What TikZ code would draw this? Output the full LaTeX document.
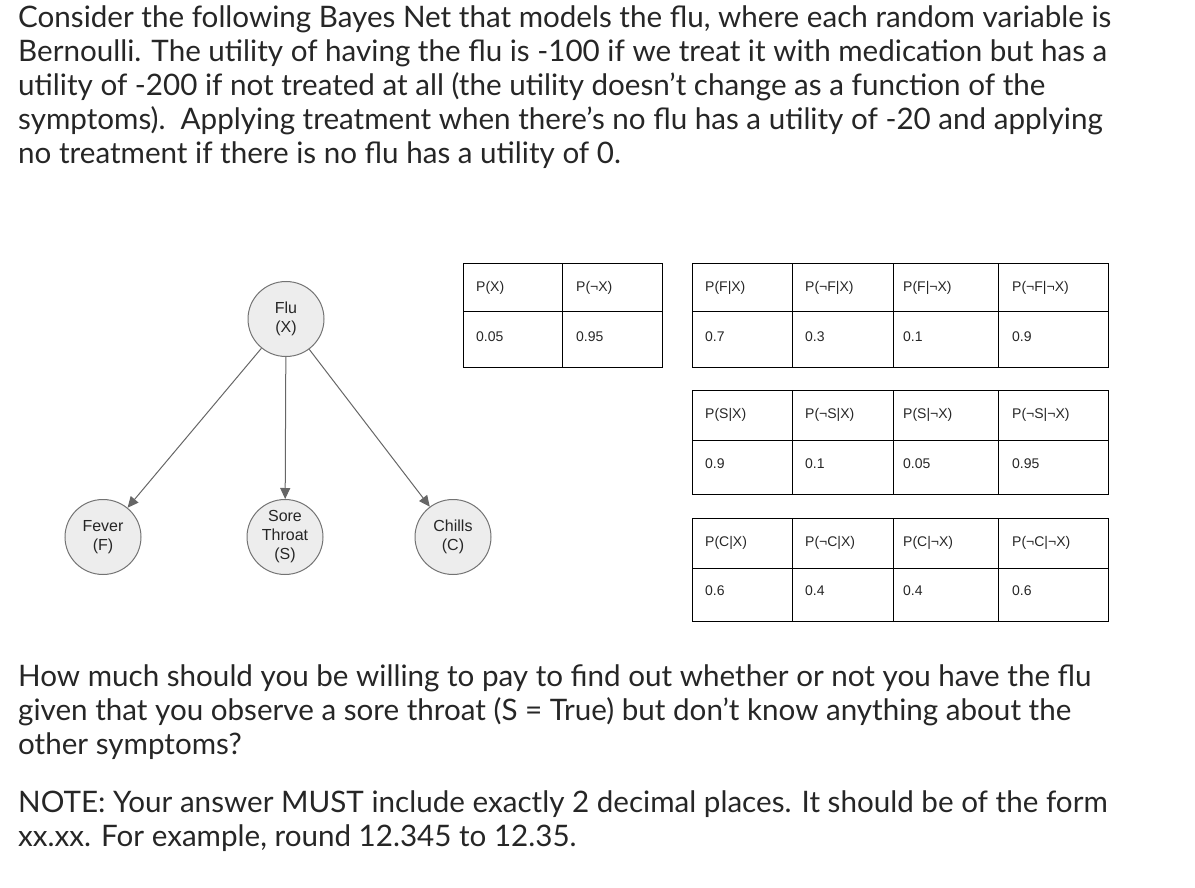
\documentclass[tikz,border=0pt]{standalone}
\usepackage{fontspec}
\setmainfont{Lato}
\newfontfamily\arial{Liberation Sans}
\usetikzlibrary{arrows.meta,shapes.geometric}
\newcommand\ap{\char39\relax}
\newcommand\nt{{\arial\char"AC}}
\begin{document}
\begin{tikzpicture}[x=1pt,y=-1pt,
  para/.style={anchor=base west,inner sep=0,font=\fontsize{29.6}{34}\selectfont,text=black!85},
  bn/.style={ellipse,draw=black!55,fill=black!7,line width=1pt,minimum width=76pt,minimum height=75pt,inner sep=0,align=center,font=\arial\fontsize{16}{19}\selectfont,text=black!85},
  arr/.style={draw=black!60,line width=1pt,-{Triangle[length=11pt,width=10pt]}},
  cell/.style={anchor=base west,inner sep=0,font=\arial\fontsize{14}{16}\selectfont,text=black!85},
  tab/.style={line width=1pt}]
\useasboundingbox (0,0) rectangle (1195,888);
\node[para] (t1) at (18,28) {Consider the following Bayes Net that models the flu, where each random variable is};
\node[para] (t2) at (18,62) {Bernoulli. The utility of having the flu is -100 if we treat it with medication but has a};
\node[para] (t3) at (18,96) {utility of -200 if not treated at all (the utility doesn\ap t change as a function of the};
\node[para] (t4) at (18,130) {symptoms).\ \ Applying treatment when there\ap s no flu has a utility of -20 and applying};
\node[para] (t5) at (18,164) {no treatment if there is no flu has a utility of 0.};
\node[para] (b1) at (18,686) {How much should you be willing to pay to find out whether or not you have the flu};
\node[para] (b2) at (18,720) {given that you observe a sore throat (S = True) but don\ap t know anything about the};
\node[para] (b3) at (18,754) {other symptoms?};
\node[para] (b4) at (18,812) {NOTE: Your answer MUST include exactly 2 decimal places. It should be of the form};
\node[para] (b5) at (18,846) {xx.xx. For example, round 12.345 to 12.35.};
\node[bn] (x) at (286,319) {Flu\\(X)};
\node[bn] (f) at (103,537) {Fever\\(F)};
\node[bn] (s) at (285,537) {Sore\\Throat\\(S)};
\node[bn] (c) at (453,537) {Chills\\(C)};
\draw[arr] (x) -- (f);
\draw[arr] (x) -- (s);
\draw[arr] (x) -- (c);
% table X
\draw[tab] (463,263) rectangle (662,367);
\draw[tab] (463,311) -- (662,311);
\draw[tab] (562,263) -- (562,367);
\node[cell] (h1) at (476,291) {P(X)};
\node[cell] (h2) at (576,291) {P(\nt X)};
\node[cell] (v1) at (476,341) {0.05};
\node[cell] (v2) at (576,341) {0.95};
% CPTs
\foreach \t/\m/\b/\L in {263/311/367/F,390/440/494/S,518/568/621/C}{
  \draw[tab] (692,\t) rectangle (1108,\b);
  \draw[tab] (692,\m) -- (1108,\m);
  \foreach \xx in {792,893,998} \draw[tab] (\xx,\t) -- (\xx,\b);
  \node[cell] at (705,\t+28) {P(\L|X)};
  \node[cell] at (805,\t+28) {P(\nt\L|X)};
  \node[cell] at (903,\t+28) {P(\L|\nt X)};
  \node[cell] at (1012,\t+28) {P(\nt\L|\nt X)};
}
\node[cell] at (705,341) {0.7};
\node[cell] at (805,341) {0.3};
\node[cell] at (903,341) {0.1};
\node[cell] at (1012,341) {0.9};
\node[cell] at (705,468) {0.9};
\node[cell] at (805,468) {0.1};
\node[cell] at (903,468) {0.05};
\node[cell] at (1012,468) {0.95};
\node[cell] at (705,595) {0.6};
\node[cell] at (805,595) {0.4};
\node[cell] at (903,595) {0.4};
\node[cell] at (1012,595) {0.6};
\end{tikzpicture}
\end{document}
